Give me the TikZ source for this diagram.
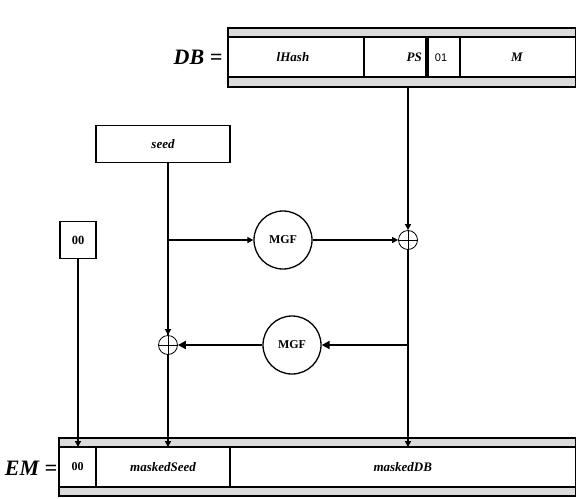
\documentclass[tikz,border=0pt]{standalone}
\usepackage{fontspec}
\setmainfont{Liberation Serif}
\newfontfamily\arialfont{Liberation Sans}
\usetikzlibrary{arrows.meta}
\tikzset{
  band/.style={draw, line width=1.5pt, fill=black!14},
  cell/.style={draw, line width=1.5pt, fill=white, rectangle, inner sep=0pt, outer sep=0pt, font=\fontsize{13}{14}\selectfont\bfseries\itshape},
  lbl/.style={inner sep=0pt, font=\fontsize{13}{14}\selectfont\bfseries\itshape},
  box/.style={draw, line width=1.5pt, rectangle, inner sep=0pt, font=\fontsize{13}{14}\selectfont\bfseries\itshape},
  mgf/.style={draw, line width=1.3pt, circle, minimum size=58pt, inner sep=0pt, font=\fontsize{12}{13}\selectfont\bfseries},
  xor/.style={draw, line width=0.8pt, circle, minimum size=19pt, inner sep=0pt,
    path picture={\draw[line width=0.8pt] (path picture bounding box.north) -- (path picture bounding box.south)
      (path picture bounding box.west) -- (path picture bounding box.east);}},
  eqlbl/.style={inner sep=0pt, font=\fontsize{22}{24}\selectfont\bfseries\itshape},
  arr/.style={line width=1.5pt, -{Triangle[length=6pt,width=6pt]}},
  tarr/.style={line width=2.8pt, -{Triangle[length=8pt,width=8pt]}},
  ln/.style={line width=1.5pt},
}
\begin{document}
\begin{tikzpicture}[x=1pt,y=-1pt]
\useasboundingbox (0,0) rectangle (577,498);
% DB register
\draw[band] (228,28) rectangle (575.5,87);
\node[cell, minimum width=136pt, minimum height=40pt] (lhash) at (296,57) {};
\node[cell, minimum width=63pt, minimum height=40pt] (ps) at (395.5,57) {};
\node[cell, minimum width=33pt, minimum height=40pt] (one) at (443.5,57) {};
\node[cell, minimum width=115.5pt, minimum height=40pt] (msg) at (517.75,57) {};
\node[lbl] (lhasht) at (293,57) {lHash};
\node[lbl, anchor=east] (pst) at (422,57) {PS};
\node[inner sep=0pt, font=\fontsize{11}{12}\selectfont\arialfont] (onet) at (441,58) {01};
\node[lbl] (msgt) at (517,57) {M};
\draw[line width=3.2pt] (427,36) -- (427,77);
\node[eqlbl] (dbeq) at (198,57) {DB =};
\coordinate (dbout) at (408,87);
% EM register
\draw[band] (59,438) rectangle (575.5,496);
\node[cell, minimum width=37pt, minimum height=40pt, font=\fontsize{12}{13}\selectfont\bfseries] (z2) at (77.5,467) {00};
\node[cell, minimum width=134pt, minimum height=40pt] (ms) at (163,467) {maskedSeed};
\node[cell, minimum width=345.5pt, minimum height=40pt] (mdb) at (402.75,467) {maskedDB};
\node[eqlbl] (emeq) at (31,468) {EM =};
% seed and 00
\node[box, minimum width=134pt, minimum height=37pt] (seed) at (163,144) {seed};
\node[box, minimum width=36pt, minimum height=37pt, font=\fontsize{12.5}{13}\selectfont\bfseries] (zero) at (78,240) {00};
% MGF and XOR
\node[mgf] (m1) at (283,240) {MGF};
\node[mgf] (m2) at (292,345) {MGF};
\node[xor] (x1) at (408,240) {};
\node[xor] (x2) at (168,345) {};
\coordinate (br1) at (168,240);
\coordinate (br2) at (408,345);
% connectors
\draw[arr] (dbout) -- (x1.north);
\draw[ln] (x2 |- seed.south) -- (x2.north);
\draw[arr] (br1) -- (x2.north);
\draw[arr] (br1) -- (m1.west);
\draw[arr] (m1.east) -- (x1.west);
\draw[arr] (x1.south) -- (x1 |- mdb.north);
\draw[tarr] (br2) -- (m2.east);
\draw[tarr] (m2.west) -- (x2.east);
\draw[arr] (x2.south) -- (x2 |- ms.north);
\draw[arr] (zero.south) -- (zero |- z2.north);
\end{tikzpicture}
\end{document}
